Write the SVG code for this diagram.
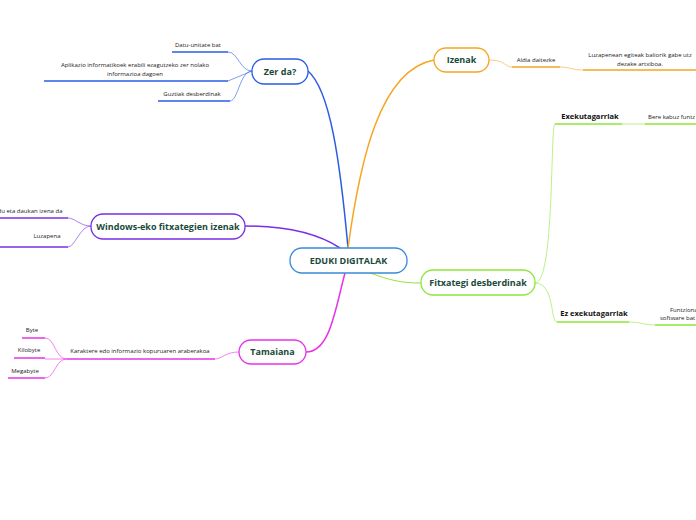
<svg xmlns="http://www.w3.org/2000/svg" width="696" height="520" viewBox="0 0 696 520">
<style>
text{font-family:"Open Sans","Noto Sans",sans-serif;fill:#222}
.s{font-size:6px;text-anchor:middle}
.m{font-size:9px;font-weight:bold;fill:#1a4a3a;text-anchor:middle}
.sb{font-size:7.5px;font-weight:bold;fill:#111;text-anchor:middle}
.n{fill:#fff;stroke-width:1.3}
path{fill:none}
</style>
<rect width="696" height="520" fill="#fff"/>
<g id="connectors">
<path d="M348 248 C340 160 330 90 308 71" stroke="#2a5ce6" stroke-width="1.5"/>
<path d="M348 248 C360 160 380 70 434 60" stroke="#f5a623" stroke-width="1.5"/>
<path d="M340 248 C320 235 290 226 245 226" stroke="#7a2ee6" stroke-width="1.5"/>
<path d="M370 273 C390 280 400 283 421 283" stroke="#8ee63a" stroke-width="1"/>
<path d="M345 273 C335 310 330 352 306 352" stroke="#e633e6" stroke-width="1.5"/>
<g stroke="#2a5ce6" stroke-width="0.6"><path d="M252 71 C240 71 238 52 228 52"/><path d="M252 71 L228 81"/><path d="M252 71 C240 71 238 101 230 101"/></g>
<g stroke="#2a5ce6" stroke-width="1.5"><path d="M172 52 H228"/><path d="M44 81 H228"/><path d="M158 101 H230"/></g>
<g stroke="#7a2ee6" stroke-width="0.6"><path d="M91 226 C80 226 75 218 68 218"/><path d="M91 226 C80 226 75 247 68 247"/></g>
<g stroke="#7a2ee6" stroke-width="1.5"><path d="M0 218 H68"/><path d="M0 247 H68"/></g>
<g stroke="#f5a623"><path d="M489 60 C505 60 505 67 512 67" stroke-width="0.6"/><path d="M512 67 H560" stroke-width="1.5"/><path d="M560 67 C570 67 572 70 583 70" stroke-width="0.6"/><path d="M583 70 H696" stroke-width="1.5"/></g>
<g stroke="#8ee63a"><path d="M535 283 C555 283 550 124 555 124" stroke-width="0.6"/><path d="M535 283 C555 283 550 322 557 322" stroke-width="0.6"/><path d="M555 124 H622 M645 124 H696 M557 322 H629 M655 325 H696" stroke-width="1.5"/><path d="M622 124 H645 M629 322 C640 322 645 325 655 325" stroke-width="0.6"/></g>
<g stroke="#e633e6"><path d="M239 352 C225 352 222 359 215 359" stroke-width="0.6"/><path d="M67 359 H215" stroke-width="1.5"/><path d="M67 359 C55 359 55 338 45 338 M67 359 H45 M67 359 C55 359 55 378 45 378" stroke-width="0.6"/><path d="M22 338 H45 M14 358 H45 M8 378 H45" stroke-width="1.5"/></g>
</g>
<g id="center"><rect class="n" x="290" y="248" width="117" height="25" rx="12" stroke="#3a8ad9"/><text class="m" x="348.5" y="264">EDUKI DIGITALAK</text></g>
<g id="zerda"><rect class="n" x="252" y="59" width="56" height="25" rx="12" stroke="#2a5ce6"/><text class="m" x="280" y="75">Zer da?</text>
<text class="s" x="198" y="47">Datu-unitate bat</text><text class="s" x="135" y="67">Aplikazio informatikoek erabili ezagutzeko zer nolako</text><text class="s" x="135" y="76">informazioa dagoen</text><text class="s" x="192" y="96">Guztiak desberdinak</text></g>
<g id="izenak"><rect class="n" x="434" y="48" width="55" height="24" rx="12" stroke="#f5a623"/><text class="m" x="461.5" y="63">Izenak</text>
<text class="s" x="536" y="62">Aldia daitezke</text><text class="s" x="640" y="57">Luzapenean egiteak baliorik gabe utz</text><text class="s" x="640" y="66">dezake artxiboa.</text></g>
<g id="windows"><rect class="n" x="91" y="214" width="154" height="25" rx="12" stroke="#7a2ee6"/><text class="m" x="168" y="230">Windows-eko fitxategien izenak</text>
<text class="s" x="30" y="213">du eta daukan izena da</text><text class="s" x="47" y="238">Luzapena</text></g>
<g id="fitxategi"><rect class="n" x="421" y="270" width="114" height="25" rx="12" stroke="#8ee63a"/><text class="m" x="478" y="286">Fitxategi desberdinak</text>
<text class="sb" x="590" y="119">Exekutagarriak</text><text class="s" x="672" y="119" style="text-anchor:start" transform="translate(-24 0)">Bere kabuz funtz</text>
<text class="sb" x="594" y="316">Ez exekutagarriak</text><text class="s" x="670" y="312" style="text-anchor:start">Funtziona</text><text class="s" x="660" y="320" style="text-anchor:start">software bat</text></g>
<g id="tamaiana"><rect class="n" x="239" y="340" width="67" height="24" rx="12" stroke="#e633e6"/><text class="m" x="272.5" y="355">Tamaiana</text>
<text class="s" x="140" y="353">Karaktere edo informazio kopuruaren araberakoa</text><text class="s" x="32" y="332">Byte</text><text class="s" x="29" y="352">Kilobyte</text><text class="s" x="25" y="373">Megabyte</text></g>
</svg>
